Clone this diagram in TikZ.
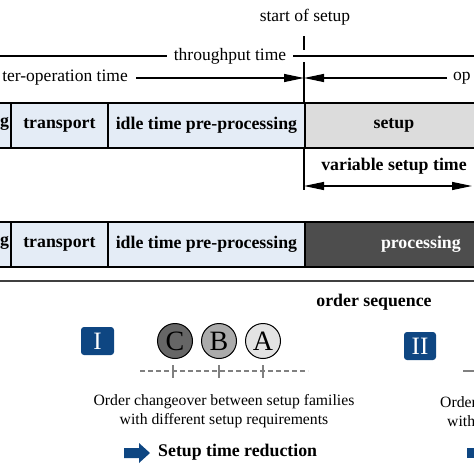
\documentclass[tikz,border=0pt]{standalone}
\usepackage{fontspec}
\setmainfont{Liberation Serif}
\usetikzlibrary{arrows.meta}
\definecolor{lblue}{HTML}{E4ECF6}
\definecolor{lgray}{HTML}{DCDCDC}
\definecolor{dgray}{HTML}{4D4D4D}
\definecolor{navy}{HTML}{0E4682}
\begin{document}
\begin{tikzpicture}[x=1pt,y=-1pt,
  box/.style={draw=black, line width=1.8pt, inner sep=0pt, anchor=north west, minimum height=45pt, font=\fontsize{17.8}{20}\selectfont\bfseries},
  lab/.style={font=\fontsize{17.5}{20}\selectfont, inner sep=0pt},
  slab/.style={font=\fontsize{15.7}{19}\selectfont, inner sep=0pt},
  blab/.style={font=\fontsize{17.8}{20}\selectfont\bfseries, inner sep=0pt},
  vline/.style={line width=1.8pt, draw=black},
  hline/.style={line width=1.2pt, draw=black},
  tipr/.style={-{Triangle[length=20pt,width=8pt]}},
  numbox/.style={fill=navy, rounded corners=3pt, text=white, font=\fontsize{25}{27}\selectfont, inner sep=0pt},
  fam/.style={circle, draw=black, line width=1pt, minimum size=35pt, inner sep=0pt, font=\fontsize{28}{30}\selectfont},
  seqline/.style={draw=gray, line width=1.8pt},
  bluearrow/.style={fill=navy}
]
\useasboundingbox (0,0) rectangle (474,474);
\clip (0,0) rectangle (474,474);

% top annotation
\node[lab] (sos) at (305,17) {start of setup};
\coordinate (v1) at (304,36);
\coordinate (v2) at (304,50);
\coordinate (v3) at (304,62);
\coordinate (v4) at (304,190);
\draw[vline] (v1) -- (v2);
\draw[vline] (v3) -- (v4);

\node[lab, inner xsep=7pt] (tp) at (230,56) {throughput time};
\coordinate (tpl) at (0,56);
\coordinate (tpr) at (474,56);
\draw[hline] (tpl) -- (tp.west);
\draw[hline] (tp.east) -- (tpr);

\coordinate (mid) at (304,78);
\node[lab, anchor=east, inner xsep=0pt] (iot) at (128,78) {ter-operation time};
\node[lab, anchor=west] (op) at (453,78) {op};
\draw[hline, tipr] ([xshift=8pt]iot.east) -- (mid);
\draw[hline, tipr] ([xshift=-6pt]op.west) -- (mid);

% row 1
\node[box, fill=lblue, minimum width=70pt] (g1) at (-60,102) {};
\node[blab, anchor=west] (g1t) at (0,124) {g};
\node[box, fill=lblue, minimum width=97pt] (t1) at (10,102) {transport};
\node[box, fill=lblue, minimum width=197pt] (i1) at (107,102) {idle time pre-processing};
\node[box, fill=lgray, minimum width=178pt] (s1) at (304,102) {setup};

% variable setup time
\node[blab] (vst) at (394,166) {variable setup time};
\coordinate (va) at (304,186);
\coordinate (vb) at (472,186);
\draw[hline, {Triangle[length=20pt,width=8pt]}-{Triangle[length=20pt,width=8pt]}] (va) -- (vb);

% row 2
\node[box, fill=lblue, minimum width=70pt] (g2) at (-60,221) {};
\node[blab, anchor=west] (g2t) at (0,243) {g};
\node[box, fill=lblue, minimum width=97pt] (t2) at (10,221) {transport};
\node[box, fill=lblue, minimum width=197pt] (i2) at (107,221) {idle time pre-processing};
\node[box, fill=dgray, text=white, minimum width=232pt] (p2) at (304,221) {processing};

% separator
\coordinate (sl) at (0,281);
\coordinate (sr) at (474,281);
\draw[line width=1.5pt, draw=black!75] (sl) -- (sr);

% order sequence
\node[blab] (os) at (374,302) {order sequence};
\node[numbox, minimum width=33pt, minimum height=28pt] (I) at (97.5,341) {I};
\node[numbox, minimum width=32pt, minimum height=28pt] (II) at (420,346) {II};

\node[fam, fill=black!60] (C) at (175,341) {C};
\node[fam, fill=black!33] (B) at (219,341) {B};
\node[fam, fill=black!11] (A) at (263,341) {A};

\coordinate (d1) at (140,371);
\coordinate (d2) at (308,371);
\draw[seqline, dash pattern=on 5pt off 3pt] (d1) -- (d2);
\foreach \x in {173,219,263} {\draw[seqline] (\x,365) -- (\x,378);}
\coordinate (d3) at (463,371);
\coordinate (d4) at (474,371);
\draw[seqline] (d3) -- (d4);

\node[slab, align=center] (desc1) at (224,411) {Order changeover between setup families\\with different setup requirements};
\node[slab, anchor=west] (desc2a) at (440,402) {Order};
\node[slab, anchor=west] (desc2b) at (447,421) {with};

\fill[bluearrow] (124,448) -- (139,448) -- (139,443) -- (150,453) -- (139,463) -- (139,458) -- (124,458) -- cycle;
\fill[bluearrow] (467,448) rectangle (474,458);
\node[blab, anchor=west] (str) at (158,452) {Setup time reduction};
\end{tikzpicture}
\end{document}
